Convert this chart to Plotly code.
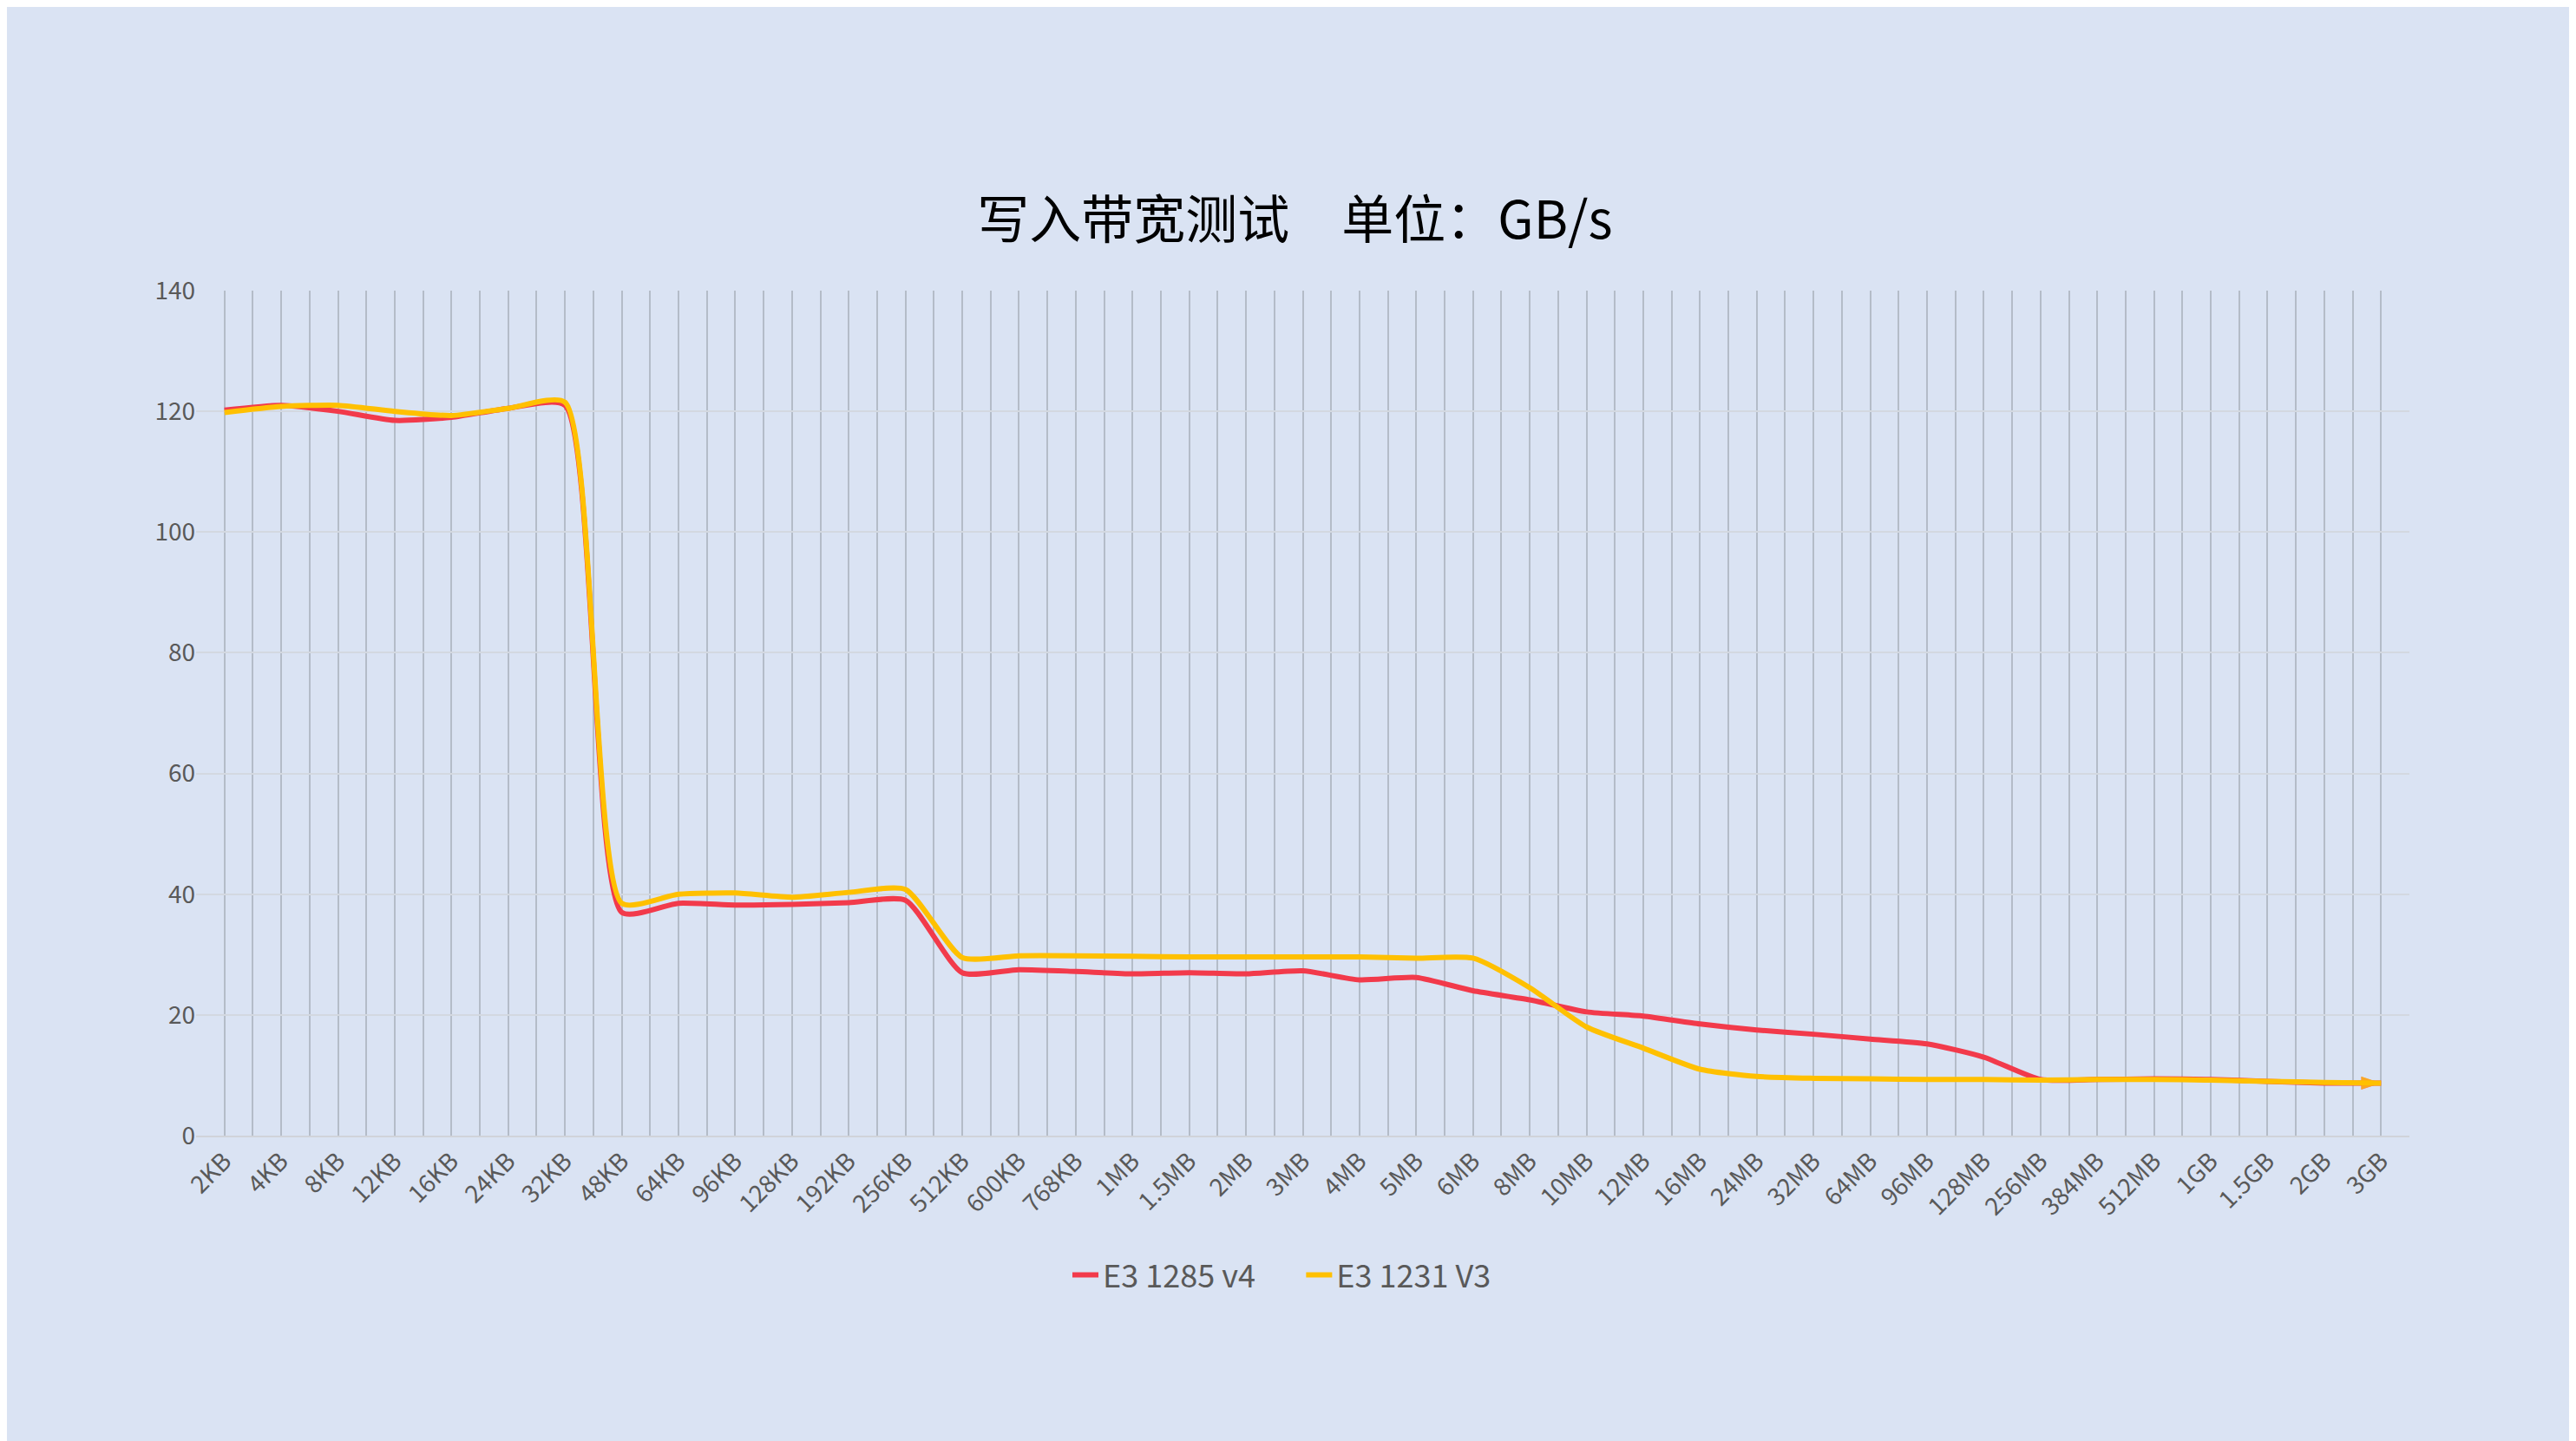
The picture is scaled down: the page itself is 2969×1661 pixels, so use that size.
import plotly.graph_objects as go

categories = ["2KB","4KB","8KB","12KB","16KB","24KB","32KB","48KB","64KB","96KB","128KB","192KB","256KB",
              "512KB","600KB","768KB","1MB","1.5MB","2MB","3MB","4MB","5MB","6MB","8MB","10MB","12MB",
              "16MB","24MB","32MB","64MB","96MB","128MB","256MB","384MB","512MB","1GB","1.5GB","2GB","3GB"]
e3_1285 = [120.2,121,120,118.5,119,120.5,121,37,38.5,38.2,38.3,38.6,39,
           27,27.5,27.2,26.8,27,26.8,27.3,25.8,26.2,24,22.5,20.5,19.8,
           18.5,17.5,16.8,16,15.2,13,9.3,9.3,9.4,9.3,9,8.7,8.7]
e3_1231 = [119.8,120.8,121,120,119.3,120.5,121.5,38.5,40,40.2,39.5,40.3,40.8,
           29.5,29.8,29.8,29.7,29.6,29.6,29.6,29.6,29.4,29.4,24.5,18,14.5,
           11,9.8,9.5,9.4,9.3,9.3,9.2,9.3,9.3,9.2,9,8.8,8.7]

x = list(range(len(categories)))
n = len(x)
fig = go.Figure()
for name, ys, col in [("E3 1285 v4", e3_1285, "#F23A4B"), ("E3 1231 V3", e3_1231, "#FFC000")]:
    fig.add_trace(go.Scatter(
        x=x, y=ys, name=name + "      ", mode="lines+markers",
        line=dict(color=col, width=6, shape="spline", smoothing=0.6),
        marker=dict(symbol="arrow", angleref="previous", color=col,
                    size=[0]*(n-1)+[24], line=dict(width=0)),
    ))

fig.update_layout(
    width=2969, height=1661,
    paper_bgcolor="#DAE3F3", plot_bgcolor="#DAE3F3",
    font=dict(family="Noto Sans CJK SC, Noto Sans, sans-serif", color="#595959"),
    title=dict(text="写入带宽测试　单位：GB/s", x=0.5, xanchor="center", y=0.852, yanchor="middle",
               font=dict(size=60, color="#000000")),
    margin=dict(l=218, r=200, t=327, b=360),
    showlegend=True,
    legend=dict(orientation="h", x=0.5, xanchor="center", y=-0.165, yanchor="middle",
                font=dict(size=36, color="#595959")),
    xaxis=dict(
        range=[-0.5, n-0.5], tickmode="array", tickvals=x, ticktext=categories,
        tickangle=-45, tickfont=dict(size=28, color="#595959"),
        showgrid=True, gridcolor="#B4BCC8", gridwidth=2,
        minor=dict(tickmode="linear", tick0=-0.5, dtick=1, showgrid=True, gridcolor="#B4BCC8", gridwidth=2),
        showline=True, linecolor="#D0D3D9", linewidth=2, zeroline=False,
    ),
    yaxis=dict(
        range=[0, 140], dtick=20, tickfont=dict(size=28, color="#595959"),
        showgrid=True, gridcolor="#D3D8E0", gridwidth=2, zeroline=False, ticks="", ticklen=0,
    ),
)
fig.write_html("out.html")
